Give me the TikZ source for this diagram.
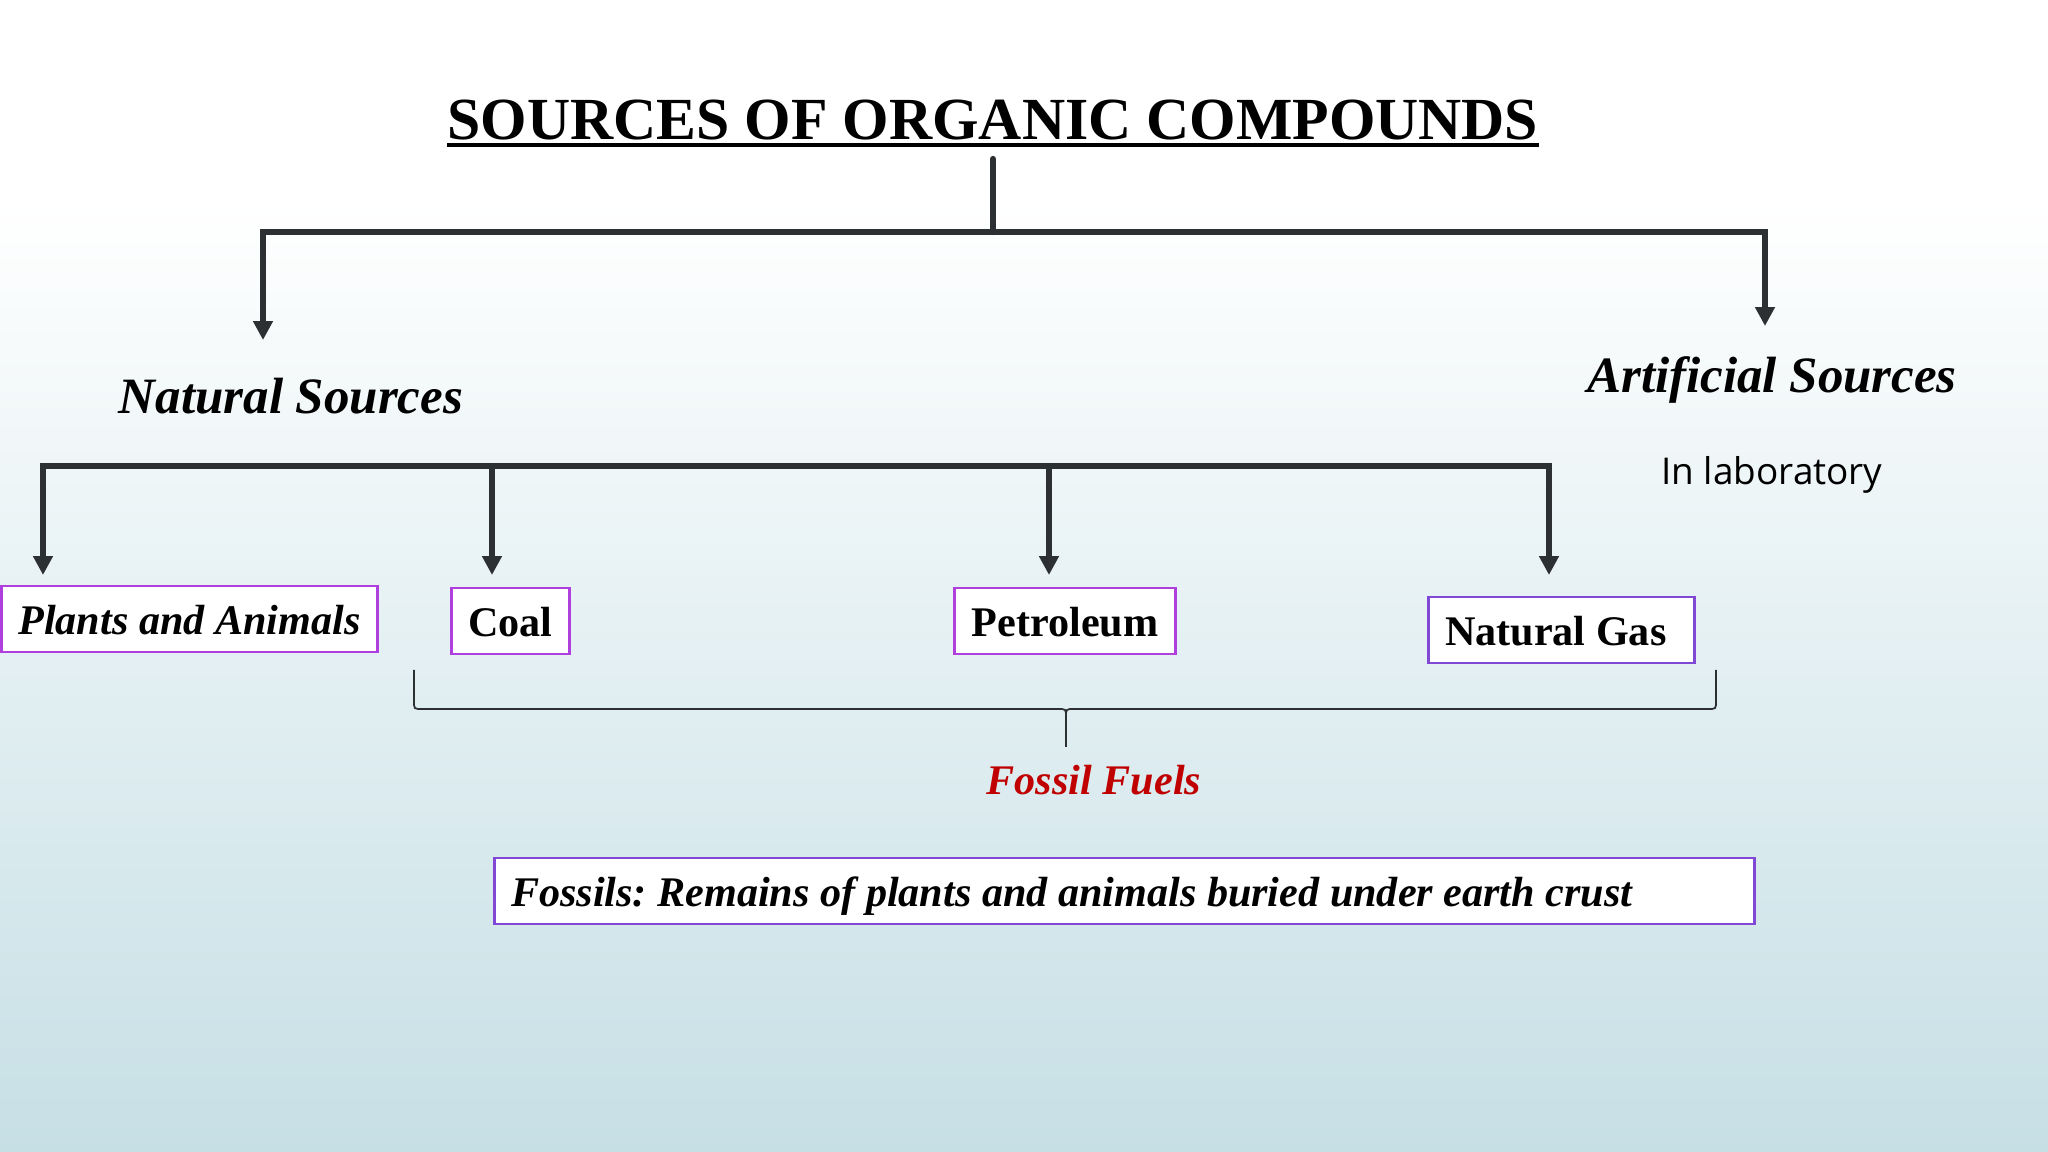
\documentclass[tikz,border=0pt]{standalone}
\usepackage{fontspec}
\setmainfont{Liberation Serif}
\newfontfamily\labfont{Open Sans}
\usetikzlibrary{arrows.meta,positioning,calc}
\definecolor{linegray}{RGB}{45,48,51}
\definecolor{boxpink}{RGB}{176,64,222}
\definecolor{boxviolet}{RGB}{128,72,212}
\definecolor{fuelred}{RGB}{192,0,0}
\definecolor{bgbot}{RGB}{198,223,229}
\tikzset{
block/.style = {draw=boxpink, line width=0.85pt, fill=white, rectangle, inner xsep=4.8pt, inner ysep=0pt, minimum height=0.66cm, text height=0.9em, text depth=0pt, font=\bfseries\fontsize{12}{14}\selectfont},
tmp/.style = {coordinate},
heading/.style = {font=\bfseries\itshape\fontsize{14.5}{17}\selectfont, inner sep=0pt, anchor=base},
branch/.style = {draw=linegray, line width=1.55pt},
brace/.style = {draw=linegray, line width=0.5pt}
}

\begin{document}
\frenchspacing
\begin{tikzpicture}[auto, >={Triangle[length=5.4pt,width=5.4pt]}]
		\fill [white] (0,0) rectangle (20.48,-2);
		\shade [top color=white, bottom color=bgbot] (0,-2) rectangle (20.48,-11.52);
		\useasboundingbox (0,0) rectangle (20.48,-11.52);

		% title
		\node [anchor=base, inner sep=0pt, font=\bfseries\fontsize{17}{20}\selectfont] (title) at (9.93,-1.40) {SOURCES OF ORGANIC COMPOUNDS};
		\draw [line width=1.2pt] ([yshift=-1.4pt]title.base west) -- ([yshift=-1.4pt]title.base east);

		\node [tmp] (top) at (9.93,-1.59) {};
		\node [tmp] (split) at (9.93,-2.32) {};
		\node [tmp] (tonat) at (2.63,-3.40) {};
		\node [tmp] (toart) at (17.65,-3.26) {};
		\draw [branch, line width=1.8pt, line cap=round] (top) -- (split);
		\draw [branch, <->] (tonat) |- (split -| toart) -- (toart);

		\node [heading] (natural) at (2.91,-4.14) {Natural Sources};
		\node [heading] (artificial) at (17.72,-3.93) {Artificial Sources};
		\node [anchor=base, inner sep=0pt, font=\labfont\fontsize{10.5}{12}\selectfont] (lab) at (17.72,-4.85) {In laboratory};

		% natural sources
		\node [block, font=\bfseries\itshape\fontsize{12}{14}\selectfont] (plants) at (1.895,-6.19) {Plants and Animals};
		\node [block] (coal) at (5.105,-6.21) {Coal};
		\node [block] (petrol) at (10.65,-6.21) {Petroleum};
		\node [block, draw=boxviolet, text width=2.33cm, align=flush left] (gas) at (15.615,-6.30) {Natural Gas};

		\node [tmp] (toplants) at (0.43,-5.75) {};
		\node [tmp] (tocoal) at (4.92,-5.75) {};
		\node [tmp] (topetrol) at (10.49,-5.75) {};
		\node [tmp] (togas) at (15.49,-5.75) {};
		\node [tmp] (bar) at (0,-4.66) {};
		\draw [branch, <->] (toplants) |- (bar -| togas) -- (togas);
		\draw [branch, ->] (bar -| tocoal) -- (tocoal);
		\draw [branch, ->] (bar -| topetrol) -- (topetrol);

		% fossil fuels brace
		\coordinate (bl) at (4.14,-6.70);
		\coordinate (br) at (17.16,-6.70);
		\coordinate (btip) at (10.66,-7.47);
		\draw [brace] (bl) -- (4.14,-7.01) .. controls (4.14,-7.09) .. (4.22,-7.09) -- (10.58,-7.09) .. controls (10.66,-7.09) .. (10.66,-7.17) -- (btip);
		\draw [brace] (br) -- (17.16,-7.01) .. controls (17.16,-7.09) .. (17.08,-7.09) -- (10.74,-7.09) .. controls (10.66,-7.09) .. (10.66,-7.17);

		\node [anchor=base, inner sep=0pt, text=fuelred, font=\bfseries\itshape\fontsize{12}{14}\selectfont] (fuels) at (10.94,-7.95) {Fossil Fuels};

		\node [block, draw=boxviolet, text width=12.27cm, align=flush left, font=\bfseries\itshape\fontsize{12}{14}\selectfont] (fossils) at (11.245,-8.91) {Fossils: Remains of plants and animals buried under earth crust};
\end{tikzpicture}
\end{document}
